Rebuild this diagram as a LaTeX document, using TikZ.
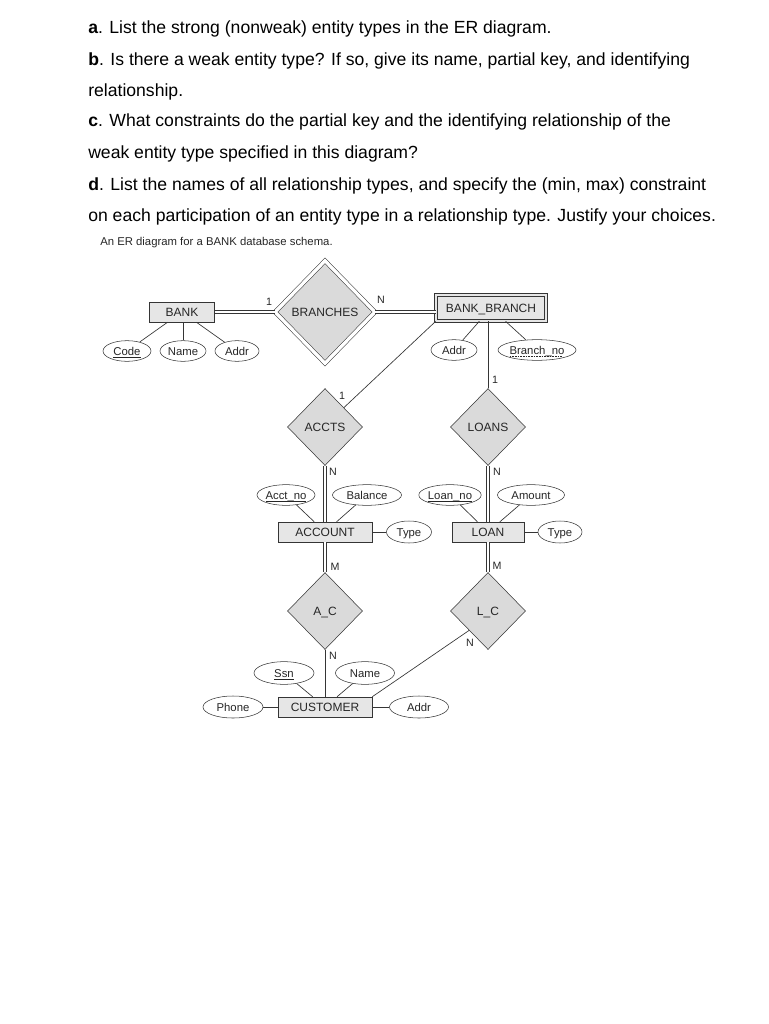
\documentclass[tikz,border=0pt]{standalone}
\usepackage{fontspec}
\setmainfont{Liberation Sans}
\usetikzlibrary{shapes.geometric}
\definecolor{lineclr}{HTML}{353535}
\definecolor{boxclr}{HTML}{E6E6E6}
\definecolor{diaclr}{HTML}{DADADA}
\definecolor{txtclr}{HTML}{262626}
\newcommand{\keyul}[1]{\setbox0\hbox{#1}\rlap{\raisebox{-2pt}[0pt][0pt]{\rule{\wd0}{0.45pt}}}\box0}
\newcommand{\dashedul}[1]{\setbox0\hbox{#1}\rlap{\raisebox{-2pt}[0pt][0pt]{\hbox to \wd0{\leaders\hbox to 2pt{\rule{1.2pt}{0.45pt}\hss}\hfill}}}\box0}

\begin{document}
\begin{tikzpicture}[x=0.75pt,y=-0.75pt,
    entity/.style={rectangle,draw=lineclr,fill=boxclr,inner sep=0pt,minimum height=15pt,
                   text height=1.6ex,text depth=0.45ex,
                   text=txtclr,font=\fontsize{9}{10}\selectfont},
    weakentity/.style={entity,double=boxclr,double distance=2pt},
    relation/.style={diamond,draw=lineclr,fill=diaclr,inner sep=0pt,
                     minimum width=56.25pt,minimum height=57.75pt,
                     text height=1.6ex,text depth=0.45ex,
                     text=txtclr,font=\fontsize{9}{10}\selectfont},
    attr/.style={ellipse,draw=lineclr,fill=white,inner sep=0pt,minimum height=15.5pt,
                 text height=1.6ex,text depth=0.45ex,
                 text=txtclr,font=\fontsize{8.5}{10}\selectfont},
    card/.style={inner sep=0pt,text=txtclr,font=\fontsize{8}{9}\selectfont},
    question/.style={anchor=base west,inner sep=0pt,font=\fontsize{13.2}{15}\selectfont}]
\useasboundingbox (0,0) rectangle (768,1024);
%\fill[white] (0,0) rectangle (768,1024);

% questions
\node[question] (q1) at (88,34) {\textbf{a}. List the strong (nonweak) entity types in the ER diagram.};
\node[question] (q2) at (88,65) {\textbf{b}. Is there a weak entity type? If so, give its name, partial key, and identifying};
\node[question] (q3) at (88,96) {relationship.};
\node[question] (q4) at (88,127) {\textbf{c}. What constraints do the partial key and the identifying relationship of the};
\node[question] (q5) at (88,158) {weak entity type specified in this diagram?};
\node[question] (q6) at (88,190) {\textbf{d}. List the names of all relationship types, and specify the (min, max) constraint};
\node[question] (q7) at (88,221) {on each participation of an entity type in a relationship type. Justify your choices.};
\node[anchor=base west,inner sep=0pt,text=txtclr,font=\fontsize{8.5}{10}\selectfont] (cap) at (100,245) {An ER diagram for a BANK database schema.};

\begin{scope}
    \node[entity,minimum width=48.75pt] (Bank) at (182,312) {BANK};
    \node[relation,double=white,double distance=2.5pt,minimum width=75pt,minimum height=77pt] (Branches) at (325,312) {BRANCHES};
    \node[weakentity,minimum width=82.5pt,minimum height=19.5pt] (BankBranch) at (491,308) {BANK\_BRANCH};

    \node[attr,minimum width=36pt] (Code) at (127,351) {\keyul{Code}};
    \node[attr,minimum width=34.5pt] (Name) at (183,351) {Name};
    \node[attr,minimum width=33pt] (Addr) at (237,351) {Addr};
    \node[attr,minimum width=34.5pt] (BrAddr) at (454,350) {Addr};
    \node[attr,minimum width=58.5pt] (BranchNo) at (537,350) {\dashedul{Branch\_no}};

    \node[relation] (Accts) at (325,427) {ACCTS};
    \node[relation] (Loans) at (488,427) {LOANS};

    \node[attr,minimum width=43.5pt] (AcctNo) at (286,495) {\keyul{Acct\_no}};
    \node[attr,minimum width=51.75pt] (Balance) at (367,495) {Balance};
    \node[attr,minimum width=45pt] (LoanNo) at (450,495) {\keyul{Loan\_no}};
    \node[attr,minimum width=50.25pt] (Amount) at (531,495) {Amount};

    \node[entity,minimum width=70.5pt] (Account) at (325,532) {ACCOUNT};
    \node[attr,minimum width=33.75pt,minimum height=16.5pt] (AccType) at (409,532) {Type};
    \node[entity,minimum width=54pt] (Loan) at (488,532) {LOAN};
    \node[attr,minimum width=33pt,minimum height=16.5pt] (LoanType) at (560,532) {Type};

    \node[relation] (AC) at (325,611) {A\_C};
    \node[relation] (LC) at (488,611) {L\_C};

    \node[attr,minimum width=45pt,minimum height=17pt] (Ssn) at (284,673) {\keyul{Ssn}};
    \node[attr,minimum width=44.25pt,minimum height=17pt] (CuName) at (365,673) {Name};
    \node[entity,minimum width=70.5pt] (Customer) at (325,707) {CUSTOMER};
    \node[attr,minimum width=45pt,minimum height=16.5pt] (Phone) at (233,707) {Phone};
    \node[attr,minimum width=44.25pt,minimum height=16.5pt] (CuAddr) at (419,707) {Addr};

    % cardinalities
    \node[card] (c1) at (269,302) {1};
    \node[card] (c2) at (381,300) {N};
    \node[card] (c3) at (342,396) {1};
    \node[card] (c4) at (495,380) {1};
    \node[card] (c5) at (333,472) {N};
    \node[card] (c6) at (497,472) {N};
    \node[card] (c7) at (335,567) {M};
    \node[card] (c8) at (497,566) {M};
    \node[card] (c9) at (333,656) {N};
    \node[card] (c10) at (470,643) {N};
\end{scope}

\begin{scope}[every edge/.style={draw=lineclr,line width=0.5pt},
              total/.style={double=white,double distance=1.5pt}]
    \path [-] (Bank) edge [total] (Branches);
    \path [-] (Branches.east) edge [total] (Branches.east -| BankBranch.west);
    \path [-] (BankBranch.south west) edge (Accts.north east);
    \path [-] (BankBranch.south -| Loans) edge (Loans);

    \path [-] (Bank) edge (Code);
    \path [-] (Bank.south -| Name) edge (Name);
    \path [-] (Bank) edge (Addr);
    \path [-] (BankBranch) edge (BrAddr);
    \path [-] (BankBranch) edge (BranchNo);

    \path [-] (Accts) edge [total] (Account);
    \path [-] (Loans) edge [total] (Loan);
    \path [-] (Account) edge (AcctNo);
    \path [-] (Account) edge (Balance);
    \path [-] (Account) edge (AccType);
    \path [-] (Loan) edge (LoanNo);
    \path [-] (Loan) edge (Amount);
    \path [-] (Loan) edge (LoanType);

    \path [-] (Account) edge [total] (AC);
    \path [-] (Loan) edge [total] (LC);
    \path [-] (AC) edge (Customer);
    \path [-] (LC.south west) edge (Customer.north east);

    \path [-] (Customer) edge (Ssn);
    \path [-] (Customer) edge (CuName);
    \path [-] (Customer) edge (Phone);
    \path [-] (Customer) edge (CuAddr);
\end{scope}
\end{tikzpicture}
\end{document}
